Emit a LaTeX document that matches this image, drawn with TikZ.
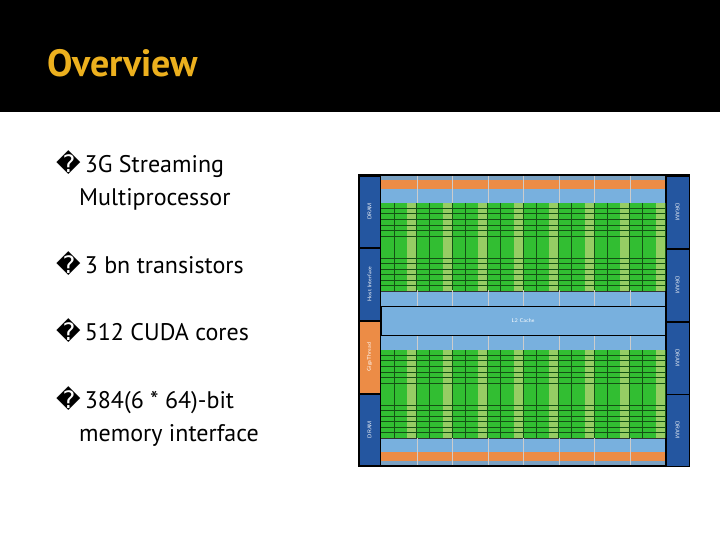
\documentclass[tikz,border=0pt]{standalone}
\usepackage{fontspec}
\setmainfont{PT Sans}
\newfontfamily\djfont{DejaVu Sans}
\definecolor{gold}{RGB}{236,176,30}
\definecolor{dblue}{RGB}{36,86,160}
\definecolor{lblue}{RGB}{120,176,222}
\definecolor{orng}{RGB}{236,140,70}
\definecolor{grn}{RGB}{50,190,50}
\definecolor{lgrn}{RGB}{150,205,100}
\definecolor{gline}{RGB}{20,80,20}
\begin{document}
\begin{tikzpicture}[x=1pt,y=-1pt,
  bul/.style={anchor=base west,font=\fontsize{24}{24}\selectfont,inner sep=0},
  side/.style={draw=black,line width=0.6pt,fill=dblue,text=white,font=\fontsize{5}{5}\selectfont\sffamily,inner sep=0},
  tx/.style={rotate=90,text=white,font=\fontsize{5.5}{5.5}\selectfont\sffamily}]
\useasboundingbox (0,0) rectangle (720,540);
\fill[white] (0,0) rectangle (720,540);
\fill[black] (0,0) rectangle (720,112);
\node[anchor=base west,text=gold,font=\fontsize{38}{38}\selectfont\bfseries] (title) at (44,77) {Overview};
\node[bul] (b1) at (56,173) {{\djfont\char"FFFD}\,3G Streaming};
\node[bul] (b1b) at (79,206) {Multiprocessor};
\node[bul] (b2) at (56,273) {{\djfont\char"FFFD}\,3 bn transistors};
\node[bul] (b3) at (56,340) {{\djfont\char"FFFD}\,512 CUDA cores};
\node[bul] (b4) at (56,408) {{\djfont\char"FFFD}\,384(6 * 64)-bit};
\node[bul] (b4b) at (79,441) {memory interface};
% chip
\fill[black] (358,174) rectangle (690,467);
\fill[lblue!70!gray] (381,176) rectangle (665,465);
\fill[orng] (381,180) rectangle (665,189);
\fill[lblue] (381,189) rectangle (665,203);
\fill[lblue] (381,290) rectangle (665,350);
\fill[lblue] (381,438) rectangle (665,452);
\fill[orng] (381,452) rectangle (665,461);
\foreach \y in {203,350}{
  \fill[grn] (381,\y) rectangle (665,\y+88);
  \foreach \i in {0,...,7}{
    \pgfmathsetmacro\xa{381+35.5*\i}
    \fill[lgrn] (\xa+26,\y) rectangle (\xa+35.5,\y+88);
    \draw[gline,line width=0.4pt] (\xa+35.5,\y) -- (\xa+35.5,\y+88);
    \draw[gline,line width=0.3pt] (\xa+13,\y) -- (\xa+13,\y+88);
  }
  \foreach \d in {5,10,16,22,27,33,55,60,66,71,77,82}{
    \draw[gline,line width=0.3pt] (381,\y+\d) -- (665,\y+\d);
  }
  \draw[black!80,line width=0.6pt] (381,\y+88) -- (665,\y+88);
}
\foreach \x in {417,452,488,523,559,594,630}{
  \draw[black!20,line width=0.3pt] (\x,176) -- (\x,203);
  \draw[black!20,line width=0.3pt] (\x,290) -- (\x,306);
  \draw[black!20,line width=0.3pt] (\x,335) -- (\x,350);
  \draw[black!20,line width=0.3pt] (\x,438) -- (\x,465);
}
\node[draw=black,line width=0.8pt,fill=lblue,minimum width=284,minimum height=29,inner sep=0,text=white,font=\fontsize{5.5}{5.5}\selectfont\sffamily] (l2) at (523,320.5) {L2 Cache};
\node[side,minimum width=21,minimum height=71] (d1) at (369.5,211.5) {};
\node[tx] at (d1) {DRAM};
\node[side,minimum width=21,minimum height=72] (hi) at (369.5,284) {};
\node[tx] at (hi) {Host Interface};
\node[side,fill=orng,minimum width=21,minimum height=72] (gt) at (369.5,357) {};
\node[tx] at (gt) {GigaThread};
\node[side,minimum width=21,minimum height=71] (d2) at (369.5,429.5) {};
\node[tx] at (d2) {DRAM};
\foreach \n/\y in {r1/212,r2/285,r3/358,r4/430}{
  \node[side,minimum width=23,minimum height=72] (\n) at (677.5,\y) {};
  \node[rotate=-90,text=white,font=\fontsize{5.5}{5.5}\selectfont\sffamily] at (\n) {DRAM};
}
\end{tikzpicture}
\end{document}
